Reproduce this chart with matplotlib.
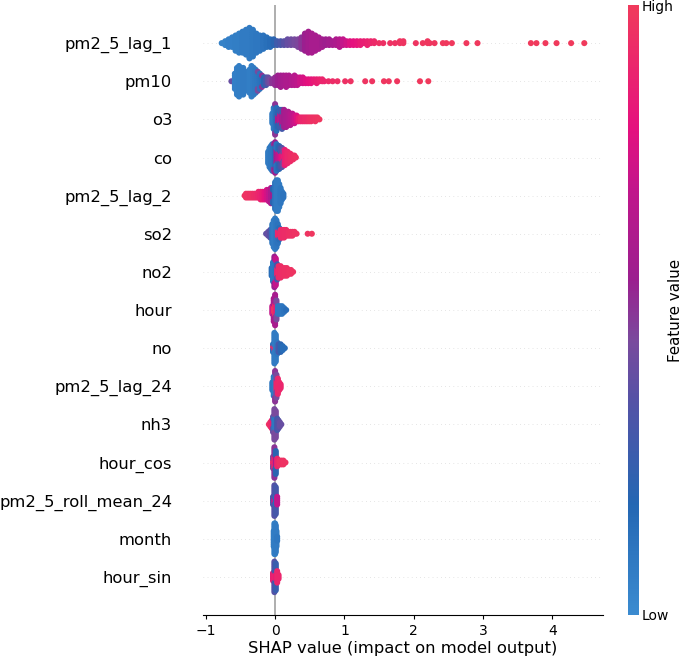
import numpy as np
import matplotlib
matplotlib.use("Agg")
import matplotlib.pyplot as plt
from matplotlib.colors import LinearSegmentedColormap
from matplotlib.cm import ScalarMappable
from matplotlib.colors import Normalize

# ---------------- data ----------------
# feature order, top to bottom
features = ["pm2_5_lag_1", "pm10", "o3", "co", "pm2_5_lag_2", "so2", "no2", "hour",
            "no", "pm2_5_lag_24", "nh3", "hour_cos", "pm2_5_roll_mean_24", "month", "hour_sin"]

# for each feature: SHAP value, number of samples at that value, normalised feature value
pm2_5_lag_1_shap = [-0.77, -0.72, -0.67, -0.62, -0.57, -0.52, -0.47, -0.42, -0.37, -0.32, -0.27, -0.22,
                    -0.17, -0.12, -0.07, -0.02,
                    0.03, 0.08, 0.13, 0.18, 0.23, 0.28, 0.33, 0.38, 0.43, 0.48, 0.53, 0.58, 0.63, 0.68,
                    0.73, 0.78, 0.83, 0.88, 0.93, 0.98, 1.03, 1.08, 1.13, 1.18, 1.23, 1.28, 1.33, 1.38, 1.43,
                    1.50, 1.56, 1.66, 1.73, 1.80, 1.85,
                    2.03, 2.13, 2.20, 2.23, 2.30, 2.42, 2.47, 2.55, 2.76, 2.92,
                    3.69, 3.77, 3.90, 4.06, 4.27, 4.46]
pm2_5_lag_1_count = [1, 3, 5, 6, 9, 11, 12, 14, 17, 15, 11, 9, 8, 6, 5, 4,
                     3, 3, 3, 4, 4, 4, 5, 7, 10, 12, 11, 9, 7, 5, 4, 4, 3, 4, 5, 4, 3, 3, 3, 3, 3, 2, 3, 2, 2,
                     1, 1, 1, 1, 2, 2,
                     1, 1, 2, 1, 1, 1, 1, 1, 1, 1,
                     1, 1, 1, 1, 1, 1]
pm2_5_lag_1_value = [0.05, 0.05, 0.06, 0.06, 0.07, 0.07, 0.08, 0.08, 0.08, 0.09, 0.1, 0.1, 0.12, 0.14, 0.16, 0.2,
                     0.28, 0.32, 0.36, 0.4, 0.42, 0.44, 0.46, 0.5, 0.55, 0.58, 0.6, 0.6, 0.6, 0.58, 0.56, 0.58,
                     0.6, 0.62, 0.65, 0.7, 0.74, 0.78, 0.8, 0.82, 0.85, 0.86, 0.88, 0.9, 0.92,
                     0.95, 0.95, 0.96, 0.96, 0.97, 0.97,
                     0.97, 0.98, 0.98, 0.98, 0.98, 0.99, 0.99, 0.99, 0.99, 0.99,
                     1.0, 1.0, 1.0, 1.0, 1.0, 1.0]

pm10_shap = [-0.63, -0.58, -0.55, -0.52, -0.49, -0.46, -0.43, -0.40, -0.37, -0.34, -0.31, -0.28,
             -0.25, -0.25, -0.22, -0.19, -0.19, -0.16, -0.13, -0.10, -0.07, -0.04,
             0.00, 0.04, 0.08, 0.12, 0.16, 0.20, 0.24, 0.28, 0.32, 0.36, 0.40, 0.44, 0.48, 0.52, 0.56,
             0.60, 0.64, 0.68,
             0.71, 0.77, 0.83, 0.90, 1.01, 1.09, 1.30, 1.40, 1.57, 1.64, 1.76, 2.09, 2.21]
pm10_count = [1, 9, 15, 17, 13, 15, 11, 9, 13, 17, 15, 13,
              8, 3, 9, 5, 2, 5, 5, 4, 3, 3,
              5, 6, 7, 6, 7, 6, 5, 6, 5, 4, 4, 3, 3, 3, 2, 3, 2, 2,
              1, 1, 1, 1, 1, 1, 1, 1, 1, 1, 1, 1, 1]
pm10_value = [0.4, 0.06, 0.06, 0.07, 0.07, 0.08, 0.08, 0.08, 0.07, 0.07, 0.08, 0.09,
              0.1, 0.45, 0.12, 0.14, 0.5, 0.2, 0.3, 0.4, 0.45, 0.5,
              0.52, 0.55, 0.58, 0.6, 0.62, 0.62, 0.64, 0.66, 0.68, 0.72, 0.75, 0.78, 0.8, 0.82, 0.85,
              0.86, 0.88, 0.9,
              0.9, 0.92, 0.93, 0.94, 0.95, 0.96, 0.97, 0.97, 0.98, 0.98, 0.98, 0.99, 1.0]

o3_shap = [-0.04, -0.02, 0.00, 0.00, 0.02, 0.04, 0.04, 0.07, 0.07, 0.10, 0.10,
           0.13, 0.16, 0.19, 0.22, 0.25, 0.28, 0.31, 0.34, 0.37, 0.40, 0.43, 0.46, 0.49, 0.52,
           0.55, 0.58, 0.61, 0.64]
o3_count = [6, 12, 14, 3, 13, 5, 4, 6, 4, 7, 4,
            10, 9, 8, 7, 6, 5, 4, 3, 3, 3, 3, 3, 3, 3, 2, 3, 2, 1]
o3_value = [0.08, 0.08, 0.1, 0.5, 0.15, 0.6, 0.2, 0.65, 0.25, 0.6, 0.3,
            0.58, 0.6, 0.62, 0.65, 0.68, 0.72, 0.78, 0.85, 0.9, 0.9, 0.92, 0.92, 0.94, 0.95,
            0.95, 0.96, 0.97, 0.98]

co_shap = [-0.10, -0.08, -0.06, -0.04, -0.02, -0.02, 0.00, 0.00, 0.02, 0.02, 0.04, 0.04,
           0.06, 0.06, 0.08, 0.08, 0.10, 0.10, 0.12, 0.12,
           0.14, 0.16, 0.18, 0.20, 0.22, 0.24, 0.26, 0.28, 0.30]
co_count = [7, 11, 13, 15, 12, 3, 12, 5, 8, 7, 6, 7, 6, 7, 5, 6, 5, 6, 4, 5,
            9, 7, 7, 5, 5, 3, 3, 2, 1]
co_value = [0.08, 0.08, 0.1, 0.1, 0.12, 0.5, 0.15, 0.55, 0.6, 0.12, 0.65, 0.15,
            0.7, 0.2, 0.75, 0.3, 0.8, 0.35, 0.85, 0.45,
            0.85, 0.88, 0.9, 0.9, 0.92, 0.93, 0.94, 0.95, 0.96]

pm2_5_lag_2_shap = [-0.44, -0.42, -0.39, -0.36, -0.33, -0.30, -0.27, -0.24, -0.21, -0.18, -0.15, -0.12,
                    -0.09, -0.06, -0.03, -0.03, 0.00, 0.02, 0.04, 0.06, 0.08, 0.10, 0.12]
pm2_5_lag_2_count = [1, 3, 3, 3, 3, 3, 3, 4, 5, 5, 5, 6, 7, 9, 5, 4, 15, 17, 17, 13, 9, 5, 3]
pm2_5_lag_2_value = [0.97, 0.96, 0.96, 0.95, 0.95, 0.93, 0.92, 0.9, 0.88, 0.85, 0.8, 0.75,
                     0.7, 0.62, 0.55, 0.2, 0.12, 0.08, 0.08, 0.08, 0.1, 0.1, 0.12]

so2_shap = [-0.13, -0.10, -0.07, -0.04, -0.02, 0.00, 0.02, 0.04, 0.04, 0.06, 0.06,
            0.08, 0.10, 0.13, 0.16, 0.19, 0.22, 0.25, 0.28, 0.31, 0.47, 0.53]
so2_count = [1, 3, 5, 11, 15, 17, 15, 5, 6, 5, 2, 5, 5, 5, 4, 3, 3, 3, 2, 1, 1, 1]
so2_value = [0.38, 0.4, 0.35, 0.1, 0.08, 0.08, 0.1, 0.9, 0.12, 0.9, 0.15,
             0.92, 0.92, 0.93, 0.93, 0.94, 0.95, 0.95, 0.96, 0.96, 0.97, 0.98]

no2_shap = [-0.05, -0.03, -0.01, -0.01, 0.01, 0.01, 0.03, 0.03, 0.05, 0.08, 0.11, 0.14, 0.17, 0.20,
            0.23, 0.26]
no2_count = [5, 11, 12, 5, 10, 5, 5, 4, 7, 7, 5, 5, 5, 3, 3, 1]
no2_value = [0.15, 0.1, 0.1, 0.55, 0.12, 0.7, 0.9, 0.3, 0.92, 0.93, 0.94, 0.95, 0.95, 0.96, 0.96, 0.97]

hour_shap = [-0.04, -0.02, -0.02, 0.00, 0.00, 0.02, 0.02, 0.04, 0.07, 0.10, 0.13, 0.16]
hour_count = [5, 5, 8, 7, 10, 6, 5, 5, 5, 5, 3, 1]
hour_value = [0.7, 0.95, 0.6, 0.95, 0.6, 0.85, 0.45, 0.1, 0.1, 0.1, 0.12, 0.15]

no_shap = [-0.03, -0.03, -0.01, -0.01, 0.01, 0.03, 0.05, 0.08, 0.11, 0.14]
no_count = [2, 3, 3, 14, 15, 7, 5, 5, 3, 1]
no_value = [0.95, 0.15, 0.9, 0.08, 0.08, 0.1, 0.3, 0.2, 0.15, 0.15]

pm2_5_lag_24_shap = [-0.04, -0.02, 0.00, 0.00, 0.02, 0.02, 0.04, 0.06, 0.08]
pm2_5_lag_24_count = [5, 11, 12, 5, 6, 7, 9, 5, 3]
pm2_5_lag_24_value = [0.1, 0.1, 0.08, 0.5, 0.9, 0.45, 0.9, 0.92, 0.9]

nh3_shap = [-0.09, -0.07, -0.05, -0.03, -0.03, -0.01, -0.01, 0.01, 0.01, 0.03, 0.05, 0.07, 0.09]
nh3_count = [1, 3, 5, 4, 5, 8, 9, 8, 7, 7, 5, 3, 1]
nh3_value = [0.95, 0.95, 0.9, 0.85, 0.4, 0.1, 0.45, 0.1, 0.45, 0.3, 0.35, 0.4, 0.4]

hour_cos_shap = [-0.03, -0.03, -0.01, -0.01, 0.01, 0.01, 0.03, 0.06, 0.09, 0.12, 0.15]
hour_cos_count = [3, 4, 7, 10, 6, 7, 5, 3, 3, 3, 1]
hour_cos_value = [0.9, 0.45, 0.9, 0.5, 0.6, 0.2, 0.9, 0.95, 0.95, 0.96, 0.96]

pm2_5_roll_mean_24_shap = [-0.03, -0.01, -0.01, 0.01, 0.01, 0.03]
pm2_5_roll_mean_24_count = [5, 3, 14, 7, 8, 5]
pm2_5_roll_mean_24_value = [0.3, 0.75, 0.35, 0.15, 0.3, 0.7]

month_shap = [-0.02, -0.01, 0.00, 0.01, 0.02, 0.03]
month_count = [9, 17, 17, 15, 9, 3]
month_value = [0.08, 0.07, 0.07, 0.08, 0.08, 0.1]

hour_sin_shap = [-0.03, -0.01, -0.01, 0.01, 0.01, 0.03, 0.05]
hour_sin_count = [5, 5, 12, 5, 10, 7, 3]
hour_sin_value = [0.85, 0.9, 0.35, 0.85, 0.25, 0.9, 0.9]

xtick_values = [-1, 0, 1, 2, 3, 4]
colorbar_labels = ["Low", "High"]
x_label = "SHAP value (impact on model output)"
colorbar_title = "Feature value"

series = {
    "pm2_5_lag_1": (pm2_5_lag_1_shap, pm2_5_lag_1_count, pm2_5_lag_1_value),
    "pm10": (pm10_shap, pm10_count, pm10_value),
    "o3": (o3_shap, o3_count, o3_value),
    "co": (co_shap, co_count, co_value),
    "pm2_5_lag_2": (pm2_5_lag_2_shap, pm2_5_lag_2_count, pm2_5_lag_2_value),
    "so2": (so2_shap, so2_count, so2_value),
    "no2": (no2_shap, no2_count, no2_value),
    "hour": (hour_shap, hour_count, hour_value),
    "no": (no_shap, no_count, no_value),
    "pm2_5_lag_24": (pm2_5_lag_24_shap, pm2_5_lag_24_count, pm2_5_lag_24_value),
    "nh3": (nh3_shap, nh3_count, nh3_value),
    "hour_cos": (hour_cos_shap, hour_cos_count, hour_cos_value),
    "pm2_5_roll_mean_24": (pm2_5_roll_mean_24_shap, pm2_5_roll_mean_24_count, pm2_5_roll_mean_24_value),
    "month": (month_shap, month_count, month_value),
    "hour_sin": (hour_sin_shap, hour_sin_count, hour_sin_value),
}

# ---------------- styling ----------------
cmap = LinearSegmentedColormap.from_list("feature_cmap", [
    (0.00, "#3b8bd0"),
    (0.18, "#2467b3"),
    (0.35, "#5452a6"),
    (0.45, "#7a4a9d"),
    (0.55, "#9b1f8f"),
    (0.70, "#c2168b"),
    (0.80, "#e5117e"),
    (1.00, "#f03a5c"),
])


def swarm_offsets(xs, row_height=0.4):
    """Stack points that share a SHAP value alternately above/below the row line."""
    ys = np.zeros(len(xs))
    layers = {}
    for i, x in enumerate(xs):
        k = layers.get(x, 0)
        ys[i] = np.ceil(k / 2) * ((k % 2) * 2 - 1)
        layers[x] = k + 1
    return ys * 0.9 * row_height / (np.max(ys) + 1)


W, H = 685, 659
fig = plt.figure(figsize=(W / 100, H / 100), dpi=100)
ax = fig.add_axes([203 / W, 1 - 615 / H, 400 / W, 610 / H])

n = len(features)
for i, name in enumerate(features):
    pos = n - 1 - i
    sv, cnt, fv = series[name]
    xs = np.repeat(np.asarray(sv, dtype=float), cnt)
    cs = np.repeat(np.asarray(fv, dtype=float), cnt)
    ys = pos + swarm_offsets(xs, row_height=0.5)
    ax.axhline(y=pos, color="#cccccc", lw=0.5, dashes=(1, 5), zorder=-1)
    ax.scatter(xs, ys, c=cs, cmap=cmap, vmin=0, vmax=1, s=19, linewidth=0, alpha=1, zorder=3)

ax.axvline(x=0, color="#999999", lw=1.1, zorder=-1)

ax.set_xlim(-1.04, 4.73)
ax.set_ylim(-1, n)
ax.set_yticks(range(n))
ax.set_yticklabels(features[::-1], fontsize=11.8)
ax.tick_params(axis="y", length=0, pad=22.3)
ax.set_xticks(xtick_values)
ax.set_xticklabels(["\u22121" if v < 0 else str(v) for v in xtick_values], fontsize=10)
ax.tick_params(axis="x", length=3.2, width=0.8)
ax.set_xlabel(x_label, fontsize=11.8, labelpad=2)
for sp in ["top", "right", "left"]:
    ax.spines[sp].set_visible(False)

cax = fig.add_axes([628 / W, 1 - 615 / H, 11 / W, 610 / H])
sm = ScalarMappable(norm=Normalize(0, 1), cmap=cmap)
cb = fig.colorbar(sm, cax=cax, ticks=[0, 1])
cb.set_ticklabels(colorbar_labels)
cb.ax.tick_params(labelsize=10, length=0, pad=2)
cb.outline.set_visible(False)
cb.set_label(colorbar_title, size=10.9, labelpad=-4)

fig.savefig("out.png", dpi=100)
